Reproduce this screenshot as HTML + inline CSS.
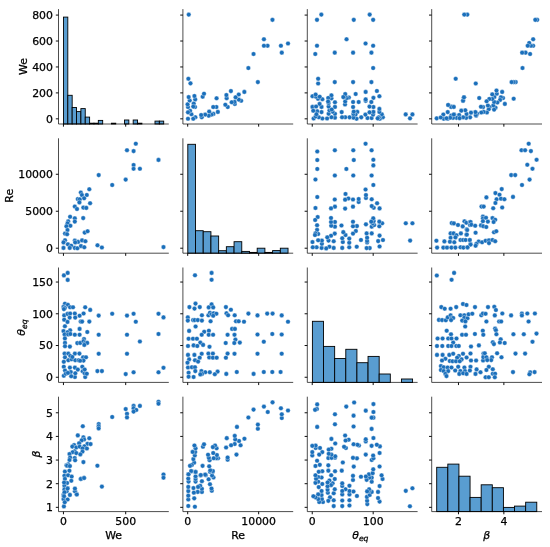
<!DOCTYPE html>
<html><head><meta charset="utf-8"><style>
html,body{margin:0;padding:0;background:#fff;}
svg{display:block;}
</style></head><body>
<svg width="550" height="547" viewBox="0 0 550 547">
<rect width="550" height="547" fill="#fff"/>
<rect x="63.45" y="17.10" width="4.36" height="106.90" fill="#599dd1" stroke="#000" stroke-width="0.9"/>
<rect x="67.81" y="95.30" width="4.36" height="28.70" fill="#599dd1" stroke="#000" stroke-width="0.9"/>
<rect x="72.17" y="107.50" width="4.36" height="16.50" fill="#599dd1" stroke="#000" stroke-width="0.9"/>
<rect x="76.53" y="111.60" width="4.36" height="12.40" fill="#599dd1" stroke="#000" stroke-width="0.9"/>
<rect x="80.89" y="108.60" width="4.36" height="15.40" fill="#599dd1" stroke="#000" stroke-width="0.9"/>
<rect x="85.25" y="117.10" width="4.36" height="6.90" fill="#599dd1" stroke="#000" stroke-width="0.9"/>
<rect x="89.60" y="123.20" width="4.36" height="0.80" fill="#599dd1" stroke="#000" stroke-width="0.9"/>
<rect x="93.96" y="123.20" width="4.36" height="0.80" fill="#599dd1" stroke="#000" stroke-width="0.9"/>
<rect x="98.32" y="120.40" width="4.36" height="3.60" fill="#599dd1" stroke="#000" stroke-width="0.9"/>
<rect x="102.68" y="124.00" width="4.36" height="0.00" fill="#599dd1" stroke="#000" stroke-width="0.9"/>
<rect x="107.04" y="124.00" width="4.36" height="0.00" fill="#599dd1" stroke="#000" stroke-width="0.9"/>
<rect x="111.40" y="123.20" width="4.36" height="0.80" fill="#599dd1" stroke="#000" stroke-width="0.9"/>
<rect x="115.76" y="124.00" width="4.36" height="0.00" fill="#599dd1" stroke="#000" stroke-width="0.9"/>
<rect x="120.12" y="124.00" width="4.36" height="0.00" fill="#599dd1" stroke="#000" stroke-width="0.9"/>
<rect x="124.48" y="120.00" width="4.36" height="4.00" fill="#599dd1" stroke="#000" stroke-width="0.9"/>
<rect x="128.84" y="124.00" width="4.36" height="0.00" fill="#599dd1" stroke="#000" stroke-width="0.9"/>
<rect x="133.19" y="120.00" width="4.36" height="4.00" fill="#599dd1" stroke="#000" stroke-width="0.9"/>
<rect x="137.55" y="123.20" width="4.36" height="0.80" fill="#599dd1" stroke="#000" stroke-width="0.9"/>
<rect x="141.91" y="124.00" width="4.36" height="0.00" fill="#599dd1" stroke="#000" stroke-width="0.9"/>
<rect x="146.27" y="124.00" width="4.36" height="0.00" fill="#599dd1" stroke="#000" stroke-width="0.9"/>
<rect x="150.63" y="124.00" width="4.36" height="0.00" fill="#599dd1" stroke="#000" stroke-width="0.9"/>
<rect x="154.99" y="121.10" width="4.36" height="2.90" fill="#599dd1" stroke="#000" stroke-width="0.9"/>
<rect x="159.35" y="121.10" width="4.36" height="2.90" fill="#599dd1" stroke="#000" stroke-width="0.9"/>
<rect x="187.80" y="144.30" width="7.71" height="108.90" fill="#599dd1" stroke="#000" stroke-width="0.9"/>
<rect x="195.51" y="230.70" width="7.71" height="22.50" fill="#599dd1" stroke="#000" stroke-width="0.9"/>
<rect x="203.22" y="231.70" width="7.71" height="21.50" fill="#599dd1" stroke="#000" stroke-width="0.9"/>
<rect x="210.93" y="236.00" width="7.71" height="17.20" fill="#599dd1" stroke="#000" stroke-width="0.9"/>
<rect x="218.64" y="250.70" width="7.71" height="2.50" fill="#599dd1" stroke="#000" stroke-width="0.9"/>
<rect x="226.35" y="246.70" width="7.71" height="6.50" fill="#599dd1" stroke="#000" stroke-width="0.9"/>
<rect x="234.06" y="241.70" width="7.71" height="11.50" fill="#599dd1" stroke="#000" stroke-width="0.9"/>
<rect x="241.77" y="251.40" width="7.71" height="1.80" fill="#599dd1" stroke="#000" stroke-width="0.9"/>
<rect x="249.48" y="252.40" width="7.71" height="0.80" fill="#599dd1" stroke="#000" stroke-width="0.9"/>
<rect x="257.19" y="248.20" width="7.71" height="5.00" fill="#599dd1" stroke="#000" stroke-width="0.9"/>
<rect x="264.90" y="252.40" width="7.71" height="0.80" fill="#599dd1" stroke="#000" stroke-width="0.9"/>
<rect x="272.61" y="250.60" width="7.71" height="2.60" fill="#599dd1" stroke="#000" stroke-width="0.9"/>
<rect x="280.32" y="248.20" width="7.71" height="5.00" fill="#599dd1" stroke="#000" stroke-width="0.9"/>
<rect x="312.40" y="321.30" width="11.13" height="61.10" fill="#599dd1" stroke="#000" stroke-width="0.9"/>
<rect x="323.53" y="346.40" width="11.13" height="36.00" fill="#599dd1" stroke="#000" stroke-width="0.9"/>
<rect x="334.66" y="358.50" width="11.13" height="23.90" fill="#599dd1" stroke="#000" stroke-width="0.9"/>
<rect x="345.79" y="349.30" width="11.13" height="33.10" fill="#599dd1" stroke="#000" stroke-width="0.9"/>
<rect x="356.92" y="362.70" width="11.13" height="19.70" fill="#599dd1" stroke="#000" stroke-width="0.9"/>
<rect x="368.05" y="356.40" width="11.13" height="26.00" fill="#599dd1" stroke="#000" stroke-width="0.9"/>
<rect x="379.18" y="374.00" width="11.13" height="8.40" fill="#599dd1" stroke="#000" stroke-width="0.9"/>
<rect x="390.31" y="382.40" width="11.13" height="0.00" fill="#599dd1" stroke="#000" stroke-width="0.9"/>
<rect x="401.44" y="379.00" width="11.13" height="3.40" fill="#599dd1" stroke="#000" stroke-width="0.9"/>
<rect x="436.70" y="467.30" width="11.12" height="44.30" fill="#599dd1" stroke="#000" stroke-width="0.9"/>
<rect x="447.82" y="464.10" width="11.12" height="47.50" fill="#599dd1" stroke="#000" stroke-width="0.9"/>
<rect x="458.94" y="476.20" width="11.12" height="35.40" fill="#599dd1" stroke="#000" stroke-width="0.9"/>
<rect x="470.06" y="497.40" width="11.12" height="14.20" fill="#599dd1" stroke="#000" stroke-width="0.9"/>
<rect x="481.18" y="484.80" width="11.12" height="26.80" fill="#599dd1" stroke="#000" stroke-width="0.9"/>
<rect x="492.30" y="487.70" width="11.12" height="23.90" fill="#599dd1" stroke="#000" stroke-width="0.9"/>
<rect x="503.42" y="507.40" width="11.12" height="4.20" fill="#599dd1" stroke="#000" stroke-width="0.9"/>
<rect x="514.54" y="506.10" width="11.12" height="5.50" fill="#599dd1" stroke="#000" stroke-width="0.9"/>
<rect x="525.66" y="502.20" width="11.12" height="9.40" fill="#599dd1" stroke="#000" stroke-width="0.9"/>
<g fill="#1a6fbb" stroke="#fff" stroke-width="0.37">
<circle cx="288.02" cy="43.48" r="2.3"/>
<circle cx="281.78" cy="52.64" r="2.3"/>
<circle cx="280.91" cy="45.77" r="2.3"/>
<circle cx="272.46" cy="19.83" r="2.3"/>
<circle cx="267.57" cy="45.77" r="2.3"/>
<circle cx="263.92" cy="45.77" r="2.3"/>
<circle cx="263.92" cy="39.21" r="2.3"/>
<circle cx="257.87" cy="82.12" r="2.3"/>
<circle cx="253.55" cy="54.00" r="2.3"/>
<circle cx="248.37" cy="68.06" r="2.3"/>
<circle cx="244.34" cy="91.92" r="2.3"/>
<circle cx="241.17" cy="100.77" r="2.3"/>
<circle cx="238.77" cy="99.62" r="2.3"/>
<circle cx="238.77" cy="94.52" r="2.3"/>
<circle cx="235.60" cy="97.33" r="2.3"/>
<circle cx="234.83" cy="103.90" r="2.3"/>
<circle cx="234.55" cy="101.92" r="2.3"/>
<circle cx="231.67" cy="102.23" r="2.3"/>
<circle cx="230.90" cy="91.08" r="2.3"/>
<circle cx="227.73" cy="107.02" r="2.3"/>
<circle cx="225.33" cy="104.73" r="2.3"/>
<circle cx="226.67" cy="98.17" r="2.3"/>
<circle cx="226.39" cy="95.04" r="2.3"/>
<circle cx="217.84" cy="111.92" r="2.3"/>
<circle cx="216.40" cy="107.02" r="2.3"/>
<circle cx="216.59" cy="98.27" r="2.3"/>
<circle cx="213.23" cy="107.02" r="2.3"/>
<circle cx="213.43" cy="113.90" r="2.3"/>
<circle cx="211.51" cy="114.62" r="2.3"/>
<circle cx="209.20" cy="111.60" r="2.3"/>
<circle cx="208.72" cy="115.77" r="2.3"/>
<circle cx="205.17" cy="114.62" r="2.3"/>
<circle cx="201.72" cy="117.23" r="2.3"/>
<circle cx="201.14" cy="115.04" r="2.3"/>
<circle cx="202.68" cy="96.71" r="2.3"/>
<circle cx="204.02" cy="93.69" r="2.3"/>
<circle cx="195.38" cy="117.23" r="2.3"/>
<circle cx="193.27" cy="118.79" r="2.3"/>
<circle cx="195.00" cy="107.02" r="2.3"/>
<circle cx="193.75" cy="103.58" r="2.3"/>
<circle cx="195.19" cy="99.42" r="2.3"/>
<circle cx="194.42" cy="95.98" r="2.3"/>
<circle cx="193.27" cy="106.60" r="2.3"/>
<circle cx="191.44" cy="114.21" r="2.3"/>
<circle cx="190.10" cy="110.77" r="2.3"/>
<circle cx="187.99" cy="118.79" r="2.3"/>
<circle cx="187.99" cy="112.33" r="2.3"/>
<circle cx="187.99" cy="107.02" r="2.3"/>
<circle cx="187.60" cy="104.31" r="2.3"/>
<circle cx="189.72" cy="100.56" r="2.3"/>
<circle cx="188.66" cy="97.12" r="2.3"/>
<circle cx="190.48" cy="83.37" r="2.3"/>
<circle cx="188.37" cy="78.79" r="2.3"/>
<circle cx="188.76" cy="14.62" r="2.3"/>
</g>
<g fill="#1a6fbb" stroke="#fff" stroke-width="0.37">
<circle cx="410.02" cy="118.37" r="2.3"/>
<circle cx="412.42" cy="114.42" r="2.3"/>
<circle cx="405.70" cy="114.42" r="2.3"/>
<circle cx="371.43" cy="82.12" r="2.3"/>
<circle cx="373.15" cy="68.06" r="2.3"/>
<circle cx="371.43" cy="52.64" r="2.3"/>
<circle cx="373.15" cy="45.77" r="2.3"/>
<circle cx="373.15" cy="19.83" r="2.3"/>
<circle cx="369.70" cy="14.62" r="2.3"/>
<circle cx="365.57" cy="43.48" r="2.3"/>
<circle cx="353.09" cy="82.12" r="2.3"/>
<circle cx="353.09" cy="52.64" r="2.3"/>
<circle cx="353.76" cy="19.83" r="2.3"/>
<circle cx="346.56" cy="39.21" r="2.3"/>
<circle cx="334.76" cy="82.12" r="2.3"/>
<circle cx="334.76" cy="52.64" r="2.3"/>
<circle cx="318.15" cy="83.48" r="2.3"/>
<circle cx="318.15" cy="78.79" r="2.3"/>
<circle cx="315.27" cy="54.00" r="2.3"/>
<circle cx="317.00" cy="45.77" r="2.3"/>
<circle cx="317.00" cy="19.83" r="2.3"/>
<circle cx="321.32" cy="14.62" r="2.3"/>
<circle cx="382.85" cy="117.33" r="2.3"/>
<circle cx="381.79" cy="114.21" r="2.3"/>
<circle cx="379.78" cy="118.79" r="2.3"/>
<circle cx="378.72" cy="117.33" r="2.3"/>
<circle cx="377.67" cy="118.37" r="2.3"/>
<circle cx="379.39" cy="111.92" r="2.3"/>
<circle cx="379.39" cy="108.90" r="2.3"/>
<circle cx="379.39" cy="96.19" r="2.3"/>
<circle cx="376.90" cy="90.98" r="2.3"/>
<circle cx="371.62" cy="118.06" r="2.3"/>
<circle cx="373.06" cy="114.62" r="2.3"/>
<circle cx="373.44" cy="111.92" r="2.3"/>
<circle cx="373.44" cy="107.02" r="2.3"/>
<circle cx="373.44" cy="97.85" r="2.3"/>
<circle cx="371.33" cy="102.02" r="2.3"/>
<circle cx="369.51" cy="112.33" r="2.3"/>
<circle cx="369.51" cy="106.60" r="2.3"/>
<circle cx="367.49" cy="118.06" r="2.3"/>
<circle cx="365.38" cy="114.62" r="2.3"/>
<circle cx="365.67" cy="100.87" r="2.3"/>
<circle cx="365.67" cy="99.42" r="2.3"/>
<circle cx="365.67" cy="91.92" r="2.3"/>
<circle cx="361.25" cy="117.33" r="2.3"/>
<circle cx="358.66" cy="102.02" r="2.3"/>
<circle cx="356.55" cy="118.79" r="2.3"/>
<circle cx="357.31" cy="111.92" r="2.3"/>
<circle cx="355.68" cy="94.00" r="2.3"/>
<circle cx="355.49" cy="114.62" r="2.3"/>
<circle cx="353.38" cy="117.65" r="2.3"/>
<circle cx="353.38" cy="113.90" r="2.3"/>
<circle cx="353.76" cy="111.60" r="2.3"/>
<circle cx="353.09" cy="107.02" r="2.3"/>
<circle cx="353.09" cy="102.02" r="2.3"/>
<circle cx="349.54" cy="117.33" r="2.3"/>
<circle cx="348.87" cy="97.44" r="2.3"/>
<circle cx="345.22" cy="117.23" r="2.3"/>
<circle cx="342.05" cy="117.23" r="2.3"/>
<circle cx="341.67" cy="112.12" r="2.3"/>
<circle cx="345.03" cy="104.42" r="2.3"/>
<circle cx="345.22" cy="101.40" r="2.3"/>
<circle cx="346.85" cy="97.96" r="2.3"/>
<circle cx="345.22" cy="96.19" r="2.3"/>
<circle cx="345.22" cy="94.10" r="2.3"/>
<circle cx="343.30" cy="97.12" r="2.3"/>
<circle cx="334.95" cy="117.65" r="2.3"/>
<circle cx="334.95" cy="113.79" r="2.3"/>
<circle cx="334.95" cy="106.92" r="2.3"/>
<circle cx="334.95" cy="102.23" r="2.3"/>
<circle cx="331.40" cy="117.23" r="2.3"/>
<circle cx="332.64" cy="111.71" r="2.3"/>
<circle cx="331.40" cy="98.37" r="2.3"/>
<circle cx="331.40" cy="95.35" r="2.3"/>
<circle cx="328.61" cy="113.79" r="2.3"/>
<circle cx="329.48" cy="110.35" r="2.3"/>
<circle cx="328.61" cy="106.50" r="2.3"/>
<circle cx="328.61" cy="103.06" r="2.3"/>
<circle cx="328.23" cy="97.96" r="2.3"/>
<circle cx="327.08" cy="118.48" r="2.3"/>
<circle cx="322.37" cy="118.48" r="2.3"/>
<circle cx="321.51" cy="112.12" r="2.3"/>
<circle cx="321.51" cy="106.92" r="2.3"/>
<circle cx="322.37" cy="99.21" r="2.3"/>
<circle cx="318.72" cy="117.23" r="2.3"/>
<circle cx="319.59" cy="103.90" r="2.3"/>
<circle cx="317.19" cy="111.19" r="2.3"/>
<circle cx="317.96" cy="98.79" r="2.3"/>
<circle cx="313.64" cy="118.48" r="2.3"/>
<circle cx="315.65" cy="116.40" r="2.3"/>
<circle cx="312.48" cy="106.92" r="2.3"/>
<circle cx="312.48" cy="96.19" r="2.3"/>
<circle cx="316.04" cy="96.71" r="2.3"/>
<circle cx="315.65" cy="94.52" r="2.3"/>
<circle cx="313.25" cy="110.77" r="2.3"/>
<circle cx="316.42" cy="114.21" r="2.3"/>
<circle cx="319.70" cy="96.70" r="2.3"/>
<circle cx="328.10" cy="101.50" r="2.3"/>
<circle cx="316.10" cy="106.50" r="2.3"/>
<circle cx="331.70" cy="109.50" r="2.3"/>
</g>
<g fill="#1a6fbb" stroke="#fff" stroke-width="0.37">
<circle cx="537.20" cy="19.83" r="2.3"/>
<circle cx="535.28" cy="19.83" r="2.3"/>
<circle cx="533.17" cy="39.21" r="2.3"/>
<circle cx="533.17" cy="45.77" r="2.3"/>
<circle cx="530.96" cy="45.77" r="2.3"/>
<circle cx="529.23" cy="42.96" r="2.3"/>
<circle cx="527.70" cy="45.77" r="2.3"/>
<circle cx="530.10" cy="54.00" r="2.3"/>
<circle cx="525.58" cy="52.64" r="2.3"/>
<circle cx="522.13" cy="52.64" r="2.3"/>
<circle cx="522.51" cy="68.06" r="2.3"/>
<circle cx="515.70" cy="82.12" r="2.3"/>
<circle cx="513.68" cy="82.12" r="2.3"/>
<circle cx="511.57" cy="82.12" r="2.3"/>
<circle cx="513.68" cy="98.69" r="2.3"/>
<circle cx="475.76" cy="83.48" r="2.3"/>
<circle cx="455.70" cy="78.79" r="2.3"/>
<circle cx="467.31" cy="14.62" r="2.3"/>
<circle cx="464.24" cy="14.62" r="2.3"/>
<circle cx="464.05" cy="97.33" r="2.3"/>
<circle cx="462.99" cy="100.87" r="2.3"/>
<circle cx="451.57" cy="106.71" r="2.3"/>
<circle cx="448.31" cy="105.04" r="2.3"/>
<circle cx="504.85" cy="103.90" r="2.3"/>
<circle cx="503.03" cy="98.06" r="2.3"/>
<circle cx="502.16" cy="91.92" r="2.3"/>
<circle cx="500.91" cy="97.33" r="2.3"/>
<circle cx="500.05" cy="99.94" r="2.3"/>
<circle cx="497.36" cy="102.54" r="2.3"/>
<circle cx="496.79" cy="93.79" r="2.3"/>
<circle cx="496.50" cy="90.56" r="2.3"/>
<circle cx="495.54" cy="107.75" r="2.3"/>
<circle cx="494.10" cy="109.62" r="2.3"/>
<circle cx="493.23" cy="105.46" r="2.3"/>
<circle cx="494.10" cy="101.92" r="2.3"/>
<circle cx="494.39" cy="97.02" r="2.3"/>
<circle cx="492.27" cy="94.42" r="2.3"/>
<circle cx="492.27" cy="99.00" r="2.3"/>
<circle cx="489.59" cy="107.12" r="2.3"/>
<circle cx="488.72" cy="109.31" r="2.3"/>
<circle cx="489.30" cy="99.00" r="2.3"/>
<circle cx="487.86" cy="105.46" r="2.3"/>
<circle cx="486.61" cy="101.29" r="2.3"/>
<circle cx="486.90" cy="112.54" r="2.3"/>
<circle cx="483.63" cy="111.92" r="2.3"/>
<circle cx="483.06" cy="107.12" r="2.3"/>
<circle cx="481.23" cy="112.54" r="2.3"/>
<circle cx="480.95" cy="106.71" r="2.3"/>
<circle cx="479.22" cy="98.06" r="2.3"/>
<circle cx="477.11" cy="113.90" r="2.3"/>
<circle cx="476.15" cy="115.77" r="2.3"/>
<circle cx="475.76" cy="115.04" r="2.3"/>
<circle cx="475.38" cy="112.12" r="2.3"/>
<circle cx="470.10" cy="117.33" r="2.3"/>
<circle cx="470.96" cy="112.65" r="2.3"/>
<circle cx="466.16" cy="117.85" r="2.3"/>
<circle cx="466.55" cy="114.00" r="2.3"/>
<circle cx="465.30" cy="110.25" r="2.3"/>
<circle cx="463.09" cy="117.33" r="2.3"/>
<circle cx="461.27" cy="110.67" r="2.3"/>
<circle cx="459.16" cy="115.04" r="2.3"/>
<circle cx="456.47" cy="117.85" r="2.3"/>
<circle cx="454.26" cy="114.52" r="2.3"/>
<circle cx="453.01" cy="117.85" r="2.3"/>
<circle cx="451.19" cy="115.46" r="2.3"/>
<circle cx="447.73" cy="112.12" r="2.3"/>
<circle cx="447.73" cy="118.79" r="2.3"/>
<circle cx="443.70" cy="118.79" r="2.3"/>
<circle cx="443.32" cy="114.52" r="2.3"/>
<circle cx="436.69" cy="118.37" r="2.3"/>
<circle cx="463.09" cy="100.67" r="2.3"/>
<circle cx="463.95" cy="97.33" r="2.3"/>
<circle cx="451.19" cy="106.92" r="2.3"/>
<circle cx="448.12" cy="104.94" r="2.3"/>
<circle cx="440.70" cy="117.50" r="2.3"/>
<circle cx="450.20" cy="117.80" r="2.3"/>
<circle cx="453.80" cy="106.90" r="2.3"/>
<circle cx="459.60" cy="118.20" r="2.3"/>
<circle cx="453.80" cy="114.50" r="2.3"/>
<circle cx="446.50" cy="118.20" r="2.3"/>
</g>
<g fill="#1a6fbb" stroke="#fff" stroke-width="0.37">
<circle cx="135.80" cy="143.70" r="2.3"/>
<circle cx="127.00" cy="150.20" r="2.3"/>
<circle cx="133.60" cy="151.10" r="2.3"/>
<circle cx="158.50" cy="159.90" r="2.3"/>
<circle cx="133.60" cy="165.00" r="2.3"/>
<circle cx="133.60" cy="168.80" r="2.3"/>
<circle cx="139.90" cy="168.80" r="2.3"/>
<circle cx="98.70" cy="175.10" r="2.3"/>
<circle cx="125.70" cy="179.60" r="2.3"/>
<circle cx="112.20" cy="185.00" r="2.3"/>
<circle cx="89.30" cy="189.20" r="2.3"/>
<circle cx="80.80" cy="192.50" r="2.3"/>
<circle cx="81.90" cy="195.00" r="2.3"/>
<circle cx="86.80" cy="195.00" r="2.3"/>
<circle cx="84.10" cy="198.30" r="2.3"/>
<circle cx="77.80" cy="199.10" r="2.3"/>
<circle cx="79.70" cy="199.40" r="2.3"/>
<circle cx="79.40" cy="202.40" r="2.3"/>
<circle cx="90.10" cy="203.20" r="2.3"/>
<circle cx="74.80" cy="206.50" r="2.3"/>
<circle cx="77.00" cy="209.00" r="2.3"/>
<circle cx="83.30" cy="207.60" r="2.3"/>
<circle cx="86.30" cy="207.90" r="2.3"/>
<circle cx="70.10" cy="216.80" r="2.3"/>
<circle cx="74.80" cy="218.30" r="2.3"/>
<circle cx="83.20" cy="218.10" r="2.3"/>
<circle cx="74.80" cy="221.60" r="2.3"/>
<circle cx="68.20" cy="221.40" r="2.3"/>
<circle cx="67.50" cy="223.40" r="2.3"/>
<circle cx="70.40" cy="225.80" r="2.3"/>
<circle cx="66.40" cy="226.30" r="2.3"/>
<circle cx="67.50" cy="230.00" r="2.3"/>
<circle cx="65.00" cy="233.60" r="2.3"/>
<circle cx="67.10" cy="234.20" r="2.3"/>
<circle cx="84.70" cy="232.60" r="2.3"/>
<circle cx="87.60" cy="231.20" r="2.3"/>
<circle cx="65.00" cy="240.20" r="2.3"/>
<circle cx="63.50" cy="242.40" r="2.3"/>
<circle cx="74.80" cy="240.60" r="2.3"/>
<circle cx="78.10" cy="241.90" r="2.3"/>
<circle cx="82.10" cy="240.40" r="2.3"/>
<circle cx="85.40" cy="241.20" r="2.3"/>
<circle cx="75.20" cy="242.40" r="2.3"/>
<circle cx="67.90" cy="244.30" r="2.3"/>
<circle cx="71.20" cy="245.70" r="2.3"/>
<circle cx="63.50" cy="247.90" r="2.3"/>
<circle cx="69.70" cy="247.90" r="2.3"/>
<circle cx="74.80" cy="247.90" r="2.3"/>
<circle cx="77.40" cy="248.30" r="2.3"/>
<circle cx="81.00" cy="246.10" r="2.3"/>
<circle cx="84.30" cy="247.20" r="2.3"/>
<circle cx="97.50" cy="245.30" r="2.3"/>
<circle cx="101.90" cy="247.50" r="2.3"/>
<circle cx="163.50" cy="247.10" r="2.3"/>
</g>
<g fill="#1a6fbb" stroke="#fff" stroke-width="0.37">
<circle cx="410.11" cy="240.60" r="2.3"/>
<circle cx="412.42" cy="223.30" r="2.3"/>
<circle cx="405.79" cy="223.30" r="2.3"/>
<circle cx="382.95" cy="240.07" r="2.3"/>
<circle cx="379.59" cy="246.43" r="2.3"/>
<circle cx="378.15" cy="241.12" r="2.3"/>
<circle cx="379.59" cy="235.60" r="2.3"/>
<circle cx="382.18" cy="223.30" r="2.3"/>
<circle cx="379.30" cy="226.32" r="2.3"/>
<circle cx="379.30" cy="221.64" r="2.3"/>
<circle cx="379.59" cy="208.41" r="2.3"/>
<circle cx="377.09" cy="203.20" r="2.3"/>
<circle cx="369.70" cy="248.10" r="2.3"/>
<circle cx="366.63" cy="248.10" r="2.3"/>
<circle cx="367.11" cy="242.57" r="2.3"/>
<circle cx="367.11" cy="240.91" r="2.3"/>
<circle cx="367.11" cy="237.68" r="2.3"/>
<circle cx="366.63" cy="233.41" r="2.3"/>
<circle cx="371.71" cy="233.41" r="2.3"/>
<circle cx="371.71" cy="226.64" r="2.3"/>
<circle cx="374.21" cy="224.97" r="2.3"/>
<circle cx="372.77" cy="223.30" r="2.3"/>
<circle cx="373.73" cy="221.12" r="2.3"/>
<circle cx="373.25" cy="218.30" r="2.3"/>
<circle cx="371.23" cy="221.64" r="2.3"/>
<circle cx="365.95" cy="224.34" r="2.3"/>
<circle cx="373.73" cy="207.78" r="2.3"/>
<circle cx="371.71" cy="206.11" r="2.3"/>
<circle cx="371.71" cy="199.24" r="2.3"/>
<circle cx="365.95" cy="197.89" r="2.3"/>
<circle cx="365.95" cy="195.07" r="2.3"/>
<circle cx="360.96" cy="239.97" r="2.3"/>
<circle cx="356.74" cy="246.74" r="2.3"/>
<circle cx="355.87" cy="231.01" r="2.3"/>
<circle cx="356.93" cy="226.12" r="2.3"/>
<circle cx="352.99" cy="233.62" r="2.3"/>
<circle cx="352.99" cy="226.32" r="2.3"/>
<circle cx="352.99" cy="221.74" r="2.3"/>
<circle cx="358.66" cy="201.95" r="2.3"/>
<circle cx="358.66" cy="199.03" r="2.3"/>
<circle cx="352.99" cy="206.64" r="2.3"/>
<circle cx="352.99" cy="199.45" r="2.3"/>
<circle cx="349.25" cy="247.26" r="2.3"/>
<circle cx="349.25" cy="242.68" r="2.3"/>
<circle cx="349.25" cy="238.62" r="2.3"/>
<circle cx="348.39" cy="198.51" r="2.3"/>
<circle cx="345.51" cy="193.93" r="2.3"/>
<circle cx="345.12" cy="199.66" r="2.3"/>
<circle cx="345.12" cy="208.62" r="2.3"/>
<circle cx="345.51" cy="235.07" r="2.3"/>
<circle cx="343.30" cy="232.16" r="2.3"/>
<circle cx="342.24" cy="247.89" r="2.3"/>
<circle cx="342.82" cy="242.05" r="2.3"/>
<circle cx="342.24" cy="238.20" r="2.3"/>
<circle cx="341.47" cy="225.49" r="2.3"/>
<circle cx="333.70" cy="247.89" r="2.3"/>
<circle cx="333.70" cy="241.22" r="2.3"/>
<circle cx="334.76" cy="233.62" r="2.3"/>
<circle cx="334.95" cy="226.64" r="2.3"/>
<circle cx="334.95" cy="221.95" r="2.3"/>
<circle cx="334.95" cy="206.64" r="2.3"/>
<circle cx="334.76" cy="199.45" r="2.3"/>
<circle cx="331.01" cy="235.70" r="2.3"/>
<circle cx="331.20" cy="225.80" r="2.3"/>
<circle cx="331.01" cy="221.95" r="2.3"/>
<circle cx="331.01" cy="217.99" r="2.3"/>
<circle cx="331.01" cy="208.41" r="2.3"/>
<circle cx="329.38" cy="246.74" r="2.3"/>
<circle cx="328.52" cy="240.60" r="2.3"/>
<circle cx="327.27" cy="237.37" r="2.3"/>
<circle cx="326.21" cy="248.41" r="2.3"/>
<circle cx="321.60" cy="247.89" r="2.3"/>
<circle cx="321.89" cy="243.82" r="2.3"/>
<circle cx="321.89" cy="240.60" r="2.3"/>
<circle cx="316.61" cy="247.26" r="2.3"/>
<circle cx="318.15" cy="240.28" r="2.3"/>
<circle cx="318.15" cy="233.93" r="2.3"/>
<circle cx="317.09" cy="229.87" r="2.3"/>
<circle cx="317.09" cy="225.18" r="2.3"/>
<circle cx="315.46" cy="233.30" r="2.3"/>
<circle cx="317.67" cy="217.05" r="2.3"/>
<circle cx="315.17" cy="219.97" r="2.3"/>
<circle cx="315.46" cy="207.99" r="2.3"/>
<circle cx="317.28" cy="197.05" r="2.3"/>
<circle cx="312.77" cy="247.26" r="2.3"/>
<circle cx="312.48" cy="242.05" r="2.3"/>
<circle cx="314.98" cy="235.07" r="2.3"/>
<circle cx="373.35" cy="184.97" r="2.3"/>
<circle cx="371.62" cy="175.49" r="2.3"/>
<circle cx="373.35" cy="165.38" r="2.3"/>
<circle cx="373.35" cy="159.76" r="2.3"/>
<circle cx="371.62" cy="150.28" r="2.3"/>
<circle cx="365.57" cy="143.72" r="2.3"/>
<circle cx="365.57" cy="189.55" r="2.3"/>
<circle cx="353.28" cy="175.49" r="2.3"/>
<circle cx="353.76" cy="160.07" r="2.3"/>
<circle cx="353.28" cy="150.28" r="2.3"/>
<circle cx="346.37" cy="168.93" r="2.3"/>
<circle cx="334.85" cy="175.49" r="2.3"/>
<circle cx="334.85" cy="150.28" r="2.3"/>
<circle cx="315.46" cy="179.55" r="2.3"/>
<circle cx="317.28" cy="168.93" r="2.3"/>
<circle cx="317.28" cy="160.07" r="2.3"/>
<circle cx="317.28" cy="151.43" r="2.3"/>
</g>
<g fill="#1a6fbb" stroke="#fff" stroke-width="0.37">
<circle cx="528.70" cy="143.70" r="2.3"/>
<circle cx="521.50" cy="150.20" r="2.3"/>
<circle cx="525.10" cy="150.20" r="2.3"/>
<circle cx="530.90" cy="151.10" r="2.3"/>
<circle cx="536.60" cy="159.80" r="2.3"/>
<circle cx="527.30" cy="164.80" r="2.3"/>
<circle cx="532.50" cy="168.80" r="2.3"/>
<circle cx="511.20" cy="175.10" r="2.3"/>
<circle cx="515.20" cy="175.10" r="2.3"/>
<circle cx="529.60" cy="179.60" r="2.3"/>
<circle cx="522.00" cy="185.00" r="2.3"/>
<circle cx="501.70" cy="189.10" r="2.3"/>
<circle cx="513.00" cy="196.90" r="2.3"/>
<circle cx="495.40" cy="193.10" r="2.3"/>
<circle cx="499.50" cy="194.70" r="2.3"/>
<circle cx="486.40" cy="197.40" r="2.3"/>
<circle cx="496.60" cy="199.20" r="2.3"/>
<circle cx="501.00" cy="198.70" r="2.3"/>
<circle cx="504.40" cy="199.20" r="2.3"/>
<circle cx="495.40" cy="203.00" r="2.3"/>
<circle cx="493.20" cy="208.20" r="2.3"/>
<circle cx="502.20" cy="207.50" r="2.3"/>
<circle cx="481.50" cy="206.60" r="2.3"/>
<circle cx="483.70" cy="206.60" r="2.3"/>
<circle cx="451.70" cy="223.10" r="2.3"/>
<circle cx="453.90" cy="223.40" r="2.3"/>
<circle cx="458.00" cy="225.00" r="2.3"/>
<circle cx="462.70" cy="226.40" r="2.3"/>
<circle cx="464.50" cy="221.30" r="2.3"/>
<circle cx="466.40" cy="222.80" r="2.3"/>
<circle cx="470.00" cy="222.00" r="2.3"/>
<circle cx="470.00" cy="225.00" r="2.3"/>
<circle cx="466.70" cy="229.40" r="2.3"/>
<circle cx="450.60" cy="233.40" r="2.3"/>
<circle cx="453.60" cy="233.40" r="2.3"/>
<circle cx="456.50" cy="235.20" r="2.3"/>
<circle cx="460.90" cy="233.40" r="2.3"/>
<circle cx="466.40" cy="234.80" r="2.3"/>
<circle cx="450.60" cy="237.80" r="2.3"/>
<circle cx="455.40" cy="237.40" r="2.3"/>
<circle cx="436.40" cy="240.70" r="2.3"/>
<circle cx="444.40" cy="241.40" r="2.3"/>
<circle cx="449.90" cy="241.80" r="2.3"/>
<circle cx="454.30" cy="242.20" r="2.3"/>
<circle cx="460.50" cy="240.00" r="2.3"/>
<circle cx="463.10" cy="240.00" r="2.3"/>
<circle cx="465.60" cy="240.00" r="2.3"/>
<circle cx="469.70" cy="240.00" r="2.3"/>
<circle cx="470.40" cy="244.00" r="2.3"/>
<circle cx="437.10" cy="247.60" r="2.3"/>
<circle cx="443.30" cy="247.60" r="2.3"/>
<circle cx="447.00" cy="247.60" r="2.3"/>
<circle cx="451.40" cy="247.60" r="2.3"/>
<circle cx="455.40" cy="247.60" r="2.3"/>
<circle cx="460.50" cy="247.30" r="2.3"/>
<circle cx="463.40" cy="247.60" r="2.3"/>
<circle cx="467.50" cy="247.60" r="2.3"/>
<circle cx="482.90" cy="216.60" r="2.3"/>
<circle cx="482.90" cy="218.50" r="2.3"/>
<circle cx="486.00" cy="217.80" r="2.3"/>
<circle cx="482.90" cy="221.20" r="2.3"/>
<circle cx="487.90" cy="221.60" r="2.3"/>
<circle cx="492.50" cy="218.10" r="2.3"/>
<circle cx="495.20" cy="219.70" r="2.3"/>
<circle cx="493.60" cy="222.00" r="2.3"/>
<circle cx="470.60" cy="222.00" r="2.3"/>
<circle cx="471.40" cy="224.70" r="2.3"/>
<circle cx="475.20" cy="225.80" r="2.3"/>
<circle cx="481.00" cy="225.40" r="2.3"/>
<circle cx="483.30" cy="226.20" r="2.3"/>
<circle cx="486.30" cy="227.00" r="2.3"/>
<circle cx="467.20" cy="230.00" r="2.3"/>
<circle cx="475.60" cy="232.70" r="2.3"/>
<circle cx="494.00" cy="232.30" r="2.3"/>
<circle cx="496.30" cy="231.20" r="2.3"/>
<circle cx="466.80" cy="234.60" r="2.3"/>
<circle cx="469.80" cy="240.00" r="2.3"/>
<circle cx="478.70" cy="241.50" r="2.3"/>
<circle cx="482.10" cy="242.30" r="2.3"/>
<circle cx="485.60" cy="240.80" r="2.3"/>
<circle cx="489.00" cy="240.40" r="2.3"/>
<circle cx="489.00" cy="243.10" r="2.3"/>
<circle cx="492.50" cy="240.00" r="2.3"/>
<circle cx="495.20" cy="241.20" r="2.3"/>
<circle cx="476.40" cy="243.90" r="2.3"/>
<circle cx="470.60" cy="244.60" r="2.3"/>
<circle cx="467.50" cy="247.30" r="2.3"/>
<circle cx="475.60" cy="245.80" r="2.3"/>
</g>
<g fill="#1a6fbb" stroke="#fff" stroke-width="0.37">
<circle cx="63.90" cy="275.40" r="2.3"/>
<circle cx="67.70" cy="272.90" r="2.3"/>
<circle cx="67.70" cy="279.90" r="2.3"/>
<circle cx="98.70" cy="315.60" r="2.3"/>
<circle cx="112.20" cy="313.80" r="2.3"/>
<circle cx="127.00" cy="315.60" r="2.3"/>
<circle cx="133.60" cy="313.80" r="2.3"/>
<circle cx="158.50" cy="313.80" r="2.3"/>
<circle cx="163.50" cy="317.40" r="2.3"/>
<circle cx="135.80" cy="321.70" r="2.3"/>
<circle cx="98.70" cy="334.70" r="2.3"/>
<circle cx="127.00" cy="334.70" r="2.3"/>
<circle cx="158.50" cy="334.00" r="2.3"/>
<circle cx="139.90" cy="341.50" r="2.3"/>
<circle cx="98.70" cy="353.80" r="2.3"/>
<circle cx="127.00" cy="353.80" r="2.3"/>
<circle cx="97.40" cy="371.10" r="2.3"/>
<circle cx="101.90" cy="371.10" r="2.3"/>
<circle cx="125.70" cy="374.10" r="2.3"/>
<circle cx="133.60" cy="372.30" r="2.3"/>
<circle cx="158.50" cy="372.30" r="2.3"/>
<circle cx="163.50" cy="367.80" r="2.3"/>
<circle cx="64.90" cy="303.70" r="2.3"/>
<circle cx="67.90" cy="304.80" r="2.3"/>
<circle cx="63.50" cy="306.90" r="2.3"/>
<circle cx="64.90" cy="308.00" r="2.3"/>
<circle cx="63.90" cy="309.10" r="2.3"/>
<circle cx="70.10" cy="307.30" r="2.3"/>
<circle cx="73.00" cy="307.30" r="2.3"/>
<circle cx="85.20" cy="307.30" r="2.3"/>
<circle cx="90.20" cy="309.90" r="2.3"/>
<circle cx="64.20" cy="315.40" r="2.3"/>
<circle cx="67.50" cy="313.90" r="2.3"/>
<circle cx="70.10" cy="313.50" r="2.3"/>
<circle cx="74.80" cy="313.50" r="2.3"/>
<circle cx="83.60" cy="313.50" r="2.3"/>
<circle cx="79.60" cy="315.70" r="2.3"/>
<circle cx="69.70" cy="317.60" r="2.3"/>
<circle cx="75.20" cy="317.60" r="2.3"/>
<circle cx="64.20" cy="319.70" r="2.3"/>
<circle cx="67.50" cy="321.90" r="2.3"/>
<circle cx="80.70" cy="321.60" r="2.3"/>
<circle cx="82.10" cy="321.60" r="2.3"/>
<circle cx="89.30" cy="321.60" r="2.3"/>
<circle cx="64.90" cy="326.20" r="2.3"/>
<circle cx="79.60" cy="328.90" r="2.3"/>
<circle cx="63.50" cy="331.10" r="2.3"/>
<circle cx="70.10" cy="330.30" r="2.3"/>
<circle cx="87.30" cy="332.00" r="2.3"/>
<circle cx="67.50" cy="332.20" r="2.3"/>
<circle cx="64.60" cy="334.40" r="2.3"/>
<circle cx="68.20" cy="334.40" r="2.3"/>
<circle cx="70.40" cy="334.00" r="2.3"/>
<circle cx="74.80" cy="334.70" r="2.3"/>
<circle cx="79.60" cy="334.70" r="2.3"/>
<circle cx="64.90" cy="338.40" r="2.3"/>
<circle cx="84.00" cy="339.10" r="2.3"/>
<circle cx="65.00" cy="342.90" r="2.3"/>
<circle cx="65.00" cy="346.20" r="2.3"/>
<circle cx="69.90" cy="346.60" r="2.3"/>
<circle cx="77.30" cy="343.10" r="2.3"/>
<circle cx="80.20" cy="342.90" r="2.3"/>
<circle cx="83.50" cy="341.20" r="2.3"/>
<circle cx="85.20" cy="342.90" r="2.3"/>
<circle cx="87.20" cy="342.90" r="2.3"/>
<circle cx="84.30" cy="344.90" r="2.3"/>
<circle cx="64.60" cy="353.60" r="2.3"/>
<circle cx="68.30" cy="353.60" r="2.3"/>
<circle cx="74.90" cy="353.60" r="2.3"/>
<circle cx="79.40" cy="353.60" r="2.3"/>
<circle cx="65.00" cy="357.30" r="2.3"/>
<circle cx="70.30" cy="356.00" r="2.3"/>
<circle cx="83.10" cy="357.30" r="2.3"/>
<circle cx="86.00" cy="357.30" r="2.3"/>
<circle cx="68.30" cy="360.20" r="2.3"/>
<circle cx="71.60" cy="359.30" r="2.3"/>
<circle cx="75.30" cy="360.20" r="2.3"/>
<circle cx="78.60" cy="360.20" r="2.3"/>
<circle cx="83.50" cy="360.60" r="2.3"/>
<circle cx="63.80" cy="361.80" r="2.3"/>
<circle cx="63.80" cy="366.70" r="2.3"/>
<circle cx="69.90" cy="367.60" r="2.3"/>
<circle cx="74.90" cy="367.60" r="2.3"/>
<circle cx="82.30" cy="366.70" r="2.3"/>
<circle cx="65.00" cy="370.50" r="2.3"/>
<circle cx="77.80" cy="369.60" r="2.3"/>
<circle cx="70.80" cy="372.10" r="2.3"/>
<circle cx="82.70" cy="371.30" r="2.3"/>
<circle cx="63.80" cy="375.80" r="2.3"/>
<circle cx="65.80" cy="373.70" r="2.3"/>
<circle cx="74.90" cy="377.00" r="2.3"/>
<circle cx="85.20" cy="377.00" r="2.3"/>
<circle cx="84.70" cy="373.30" r="2.3"/>
<circle cx="86.80" cy="373.70" r="2.3"/>
<circle cx="71.20" cy="376.20" r="2.3"/>
<circle cx="67.90" cy="372.90" r="2.3"/>
<circle cx="84.71" cy="369.48" r="2.3"/>
<circle cx="80.10" cy="360.73" r="2.3"/>
<circle cx="75.30" cy="373.23" r="2.3"/>
<circle cx="72.42" cy="356.98" r="2.3"/>
</g>
<g fill="#1a6fbb" stroke="#fff" stroke-width="0.37">
<circle cx="195.00" cy="275.30" r="2.3"/>
<circle cx="211.60" cy="272.90" r="2.3"/>
<circle cx="211.60" cy="279.80" r="2.3"/>
<circle cx="195.50" cy="303.60" r="2.3"/>
<circle cx="189.40" cy="307.10" r="2.3"/>
<circle cx="194.50" cy="308.60" r="2.3"/>
<circle cx="199.80" cy="307.10" r="2.3"/>
<circle cx="211.60" cy="304.40" r="2.3"/>
<circle cx="208.70" cy="307.40" r="2.3"/>
<circle cx="213.20" cy="307.40" r="2.3"/>
<circle cx="225.90" cy="307.10" r="2.3"/>
<circle cx="230.90" cy="309.70" r="2.3"/>
<circle cx="187.80" cy="317.40" r="2.3"/>
<circle cx="187.80" cy="320.60" r="2.3"/>
<circle cx="193.10" cy="320.10" r="2.3"/>
<circle cx="194.70" cy="320.10" r="2.3"/>
<circle cx="197.80" cy="320.10" r="2.3"/>
<circle cx="201.90" cy="320.60" r="2.3"/>
<circle cx="201.90" cy="315.30" r="2.3"/>
<circle cx="208.40" cy="315.30" r="2.3"/>
<circle cx="210.00" cy="312.70" r="2.3"/>
<circle cx="211.60" cy="314.20" r="2.3"/>
<circle cx="213.70" cy="313.20" r="2.3"/>
<circle cx="216.40" cy="313.70" r="2.3"/>
<circle cx="213.20" cy="315.80" r="2.3"/>
<circle cx="210.60" cy="321.30" r="2.3"/>
<circle cx="226.50" cy="313.20" r="2.3"/>
<circle cx="228.10" cy="315.30" r="2.3"/>
<circle cx="234.70" cy="315.30" r="2.3"/>
<circle cx="236.00" cy="321.30" r="2.3"/>
<circle cx="238.70" cy="321.30" r="2.3"/>
<circle cx="195.60" cy="326.50" r="2.3"/>
<circle cx="189.10" cy="330.90" r="2.3"/>
<circle cx="204.20" cy="331.80" r="2.3"/>
<circle cx="208.90" cy="330.70" r="2.3"/>
<circle cx="201.70" cy="334.80" r="2.3"/>
<circle cx="208.70" cy="334.80" r="2.3"/>
<circle cx="213.10" cy="334.80" r="2.3"/>
<circle cx="232.10" cy="328.90" r="2.3"/>
<circle cx="234.90" cy="328.90" r="2.3"/>
<circle cx="227.60" cy="334.80" r="2.3"/>
<circle cx="234.50" cy="334.80" r="2.3"/>
<circle cx="188.60" cy="338.70" r="2.3"/>
<circle cx="193.00" cy="338.70" r="2.3"/>
<circle cx="196.90" cy="338.70" r="2.3"/>
<circle cx="235.40" cy="339.60" r="2.3"/>
<circle cx="239.80" cy="342.60" r="2.3"/>
<circle cx="234.30" cy="343.00" r="2.3"/>
<circle cx="225.70" cy="343.00" r="2.3"/>
<circle cx="200.30" cy="342.60" r="2.3"/>
<circle cx="203.10" cy="344.90" r="2.3"/>
<circle cx="188.00" cy="346.00" r="2.3"/>
<circle cx="193.60" cy="345.40" r="2.3"/>
<circle cx="197.30" cy="346.00" r="2.3"/>
<circle cx="209.50" cy="346.80" r="2.3"/>
<circle cx="188.00" cy="354.90" r="2.3"/>
<circle cx="194.40" cy="354.90" r="2.3"/>
<circle cx="201.70" cy="353.80" r="2.3"/>
<circle cx="208.40" cy="353.60" r="2.3"/>
<circle cx="212.90" cy="353.60" r="2.3"/>
<circle cx="227.60" cy="353.60" r="2.3"/>
<circle cx="234.50" cy="353.80" r="2.3"/>
<circle cx="199.70" cy="357.70" r="2.3"/>
<circle cx="209.20" cy="357.50" r="2.3"/>
<circle cx="212.90" cy="357.70" r="2.3"/>
<circle cx="216.70" cy="357.70" r="2.3"/>
<circle cx="225.90" cy="357.70" r="2.3"/>
<circle cx="189.10" cy="359.40" r="2.3"/>
<circle cx="195.00" cy="360.30" r="2.3"/>
<circle cx="198.10" cy="361.60" r="2.3"/>
<circle cx="187.50" cy="362.70" r="2.3"/>
<circle cx="188.00" cy="367.50" r="2.3"/>
<circle cx="191.90" cy="367.20" r="2.3"/>
<circle cx="195.00" cy="367.20" r="2.3"/>
<circle cx="188.60" cy="372.70" r="2.3"/>
<circle cx="195.30" cy="371.10" r="2.3"/>
<circle cx="201.40" cy="371.10" r="2.3"/>
<circle cx="205.30" cy="372.20" r="2.3"/>
<circle cx="209.80" cy="372.20" r="2.3"/>
<circle cx="202.00" cy="373.90" r="2.3"/>
<circle cx="217.60" cy="371.60" r="2.3"/>
<circle cx="214.80" cy="374.20" r="2.3"/>
<circle cx="226.30" cy="373.90" r="2.3"/>
<circle cx="236.80" cy="372.00" r="2.3"/>
<circle cx="188.60" cy="376.70" r="2.3"/>
<circle cx="193.60" cy="377.00" r="2.3"/>
<circle cx="200.30" cy="374.40" r="2.3"/>
<circle cx="248.40" cy="313.60" r="2.3"/>
<circle cx="257.50" cy="315.40" r="2.3"/>
<circle cx="267.20" cy="313.60" r="2.3"/>
<circle cx="272.60" cy="313.60" r="2.3"/>
<circle cx="281.70" cy="315.40" r="2.3"/>
<circle cx="288.00" cy="321.70" r="2.3"/>
<circle cx="244.00" cy="321.70" r="2.3"/>
<circle cx="257.50" cy="334.50" r="2.3"/>
<circle cx="272.30" cy="334.00" r="2.3"/>
<circle cx="281.70" cy="334.50" r="2.3"/>
<circle cx="263.80" cy="341.70" r="2.3"/>
<circle cx="257.50" cy="353.70" r="2.3"/>
<circle cx="281.70" cy="353.70" r="2.3"/>
<circle cx="253.60" cy="373.90" r="2.3"/>
<circle cx="263.80" cy="372.00" r="2.3"/>
<circle cx="272.30" cy="372.00" r="2.3"/>
<circle cx="280.60" cy="372.00" r="2.3"/>
</g>
<g fill="#1a6fbb" stroke="#fff" stroke-width="0.37">
<circle cx="436.80" cy="275.50" r="2.3"/>
<circle cx="454.10" cy="272.90" r="2.3"/>
<circle cx="451.60" cy="279.80" r="2.3"/>
<circle cx="441.30" cy="307.10" r="2.3"/>
<circle cx="444.70" cy="308.70" r="2.3"/>
<circle cx="450.60" cy="308.70" r="2.3"/>
<circle cx="456.20" cy="307.10" r="2.3"/>
<circle cx="463.00" cy="304.00" r="2.3"/>
<circle cx="466.50" cy="305.00" r="2.3"/>
<circle cx="475.00" cy="307.10" r="2.3"/>
<circle cx="438.90" cy="319.90" r="2.3"/>
<circle cx="442.10" cy="320.10" r="2.3"/>
<circle cx="445.80" cy="320.30" r="2.3"/>
<circle cx="447.70" cy="317.40" r="2.3"/>
<circle cx="450.60" cy="315.30" r="2.3"/>
<circle cx="451.60" cy="318.00" r="2.3"/>
<circle cx="453.20" cy="318.00" r="2.3"/>
<circle cx="451.10" cy="320.10" r="2.3"/>
<circle cx="460.40" cy="315.30" r="2.3"/>
<circle cx="464.30" cy="315.30" r="2.3"/>
<circle cx="464.30" cy="317.80" r="2.3"/>
<circle cx="467.50" cy="318.20" r="2.3"/>
<circle cx="468.60" cy="314.30" r="2.3"/>
<circle cx="472.30" cy="313.70" r="2.3"/>
<circle cx="462.20" cy="320.60" r="2.3"/>
<circle cx="465.40" cy="321.40" r="2.3"/>
<circle cx="481.30" cy="315.30" r="2.3"/>
<circle cx="482.90" cy="313.50" r="2.3"/>
<circle cx="465.20" cy="326.50" r="2.3"/>
<circle cx="446.70" cy="330.70" r="2.3"/>
<circle cx="451.00" cy="334.30" r="2.3"/>
<circle cx="462.10" cy="334.80" r="2.3"/>
<circle cx="466.00" cy="334.80" r="2.3"/>
<circle cx="474.90" cy="334.00" r="2.3"/>
<circle cx="482.80" cy="330.70" r="2.3"/>
<circle cx="483.30" cy="334.80" r="2.3"/>
<circle cx="437.60" cy="338.50" r="2.3"/>
<circle cx="442.60" cy="338.50" r="2.3"/>
<circle cx="448.20" cy="338.50" r="2.3"/>
<circle cx="451.50" cy="338.50" r="2.3"/>
<circle cx="456.50" cy="338.50" r="2.3"/>
<circle cx="453.20" cy="342.60" r="2.3"/>
<circle cx="437.00" cy="346.00" r="2.3"/>
<circle cx="442.30" cy="346.00" r="2.3"/>
<circle cx="448.20" cy="346.00" r="2.3"/>
<circle cx="451.50" cy="346.00" r="2.3"/>
<circle cx="456.30" cy="346.00" r="2.3"/>
<circle cx="458.80" cy="346.00" r="2.3"/>
<circle cx="471.00" cy="346.50" r="2.3"/>
<circle cx="478.90" cy="345.40" r="2.3"/>
<circle cx="437.00" cy="354.90" r="2.3"/>
<circle cx="442.60" cy="354.90" r="2.3"/>
<circle cx="449.30" cy="354.90" r="2.3"/>
<circle cx="453.20" cy="353.80" r="2.3"/>
<circle cx="463.00" cy="353.80" r="2.3"/>
<circle cx="470.50" cy="353.50" r="2.3"/>
<circle cx="483.50" cy="353.50" r="2.3"/>
<circle cx="458.80" cy="356.00" r="2.3"/>
<circle cx="466.60" cy="357.50" r="2.3"/>
<circle cx="445.40" cy="358.80" r="2.3"/>
<circle cx="457.10" cy="357.70" r="2.3"/>
<circle cx="461.60" cy="359.40" r="2.3"/>
<circle cx="442.00" cy="360.50" r="2.3"/>
<circle cx="449.80" cy="361.00" r="2.3"/>
<circle cx="452.60" cy="361.30" r="2.3"/>
<circle cx="456.00" cy="361.30" r="2.3"/>
<circle cx="459.70" cy="361.30" r="2.3"/>
<circle cx="471.00" cy="360.50" r="2.3"/>
<circle cx="476.10" cy="360.50" r="2.3"/>
<circle cx="483.10" cy="360.50" r="2.3"/>
<circle cx="483.30" cy="357.10" r="2.3"/>
<circle cx="440.90" cy="366.10" r="2.3"/>
<circle cx="443.70" cy="367.20" r="2.3"/>
<circle cx="447.60" cy="367.50" r="2.3"/>
<circle cx="451.50" cy="367.50" r="2.3"/>
<circle cx="458.20" cy="366.80" r="2.3"/>
<circle cx="464.40" cy="367.50" r="2.3"/>
<circle cx="470.50" cy="366.80" r="2.3"/>
<circle cx="440.90" cy="370.00" r="2.3"/>
<circle cx="443.70" cy="371.10" r="2.3"/>
<circle cx="448.20" cy="371.10" r="2.3"/>
<circle cx="455.20" cy="370.50" r="2.3"/>
<circle cx="460.40" cy="371.10" r="2.3"/>
<circle cx="464.90" cy="371.10" r="2.3"/>
<circle cx="469.90" cy="370.50" r="2.3"/>
<circle cx="476.60" cy="369.40" r="2.3"/>
<circle cx="480.50" cy="372.20" r="2.3"/>
<circle cx="445.40" cy="373.90" r="2.3"/>
<circle cx="459.30" cy="373.90" r="2.3"/>
<circle cx="463.20" cy="373.30" r="2.3"/>
<circle cx="466.60" cy="373.90" r="2.3"/>
<circle cx="475.50" cy="373.90" r="2.3"/>
<circle cx="446.50" cy="376.10" r="2.3"/>
<circle cx="488.00" cy="307.10" r="2.3"/>
<circle cx="494.30" cy="306.80" r="2.3"/>
<circle cx="495.90" cy="310.00" r="2.3"/>
<circle cx="485.60" cy="313.80" r="2.3"/>
<circle cx="494.80" cy="315.40" r="2.3"/>
<circle cx="502.30" cy="313.50" r="2.3"/>
<circle cx="511.10" cy="315.40" r="2.3"/>
<circle cx="521.90" cy="313.50" r="2.3"/>
<circle cx="521.90" cy="315.40" r="2.3"/>
<circle cx="527.30" cy="313.50" r="2.3"/>
<circle cx="534.90" cy="313.50" r="2.3"/>
<circle cx="486.40" cy="321.50" r="2.3"/>
<circle cx="499.10" cy="321.50" r="2.3"/>
<circle cx="501.20" cy="321.50" r="2.3"/>
<circle cx="528.60" cy="321.50" r="2.3"/>
<circle cx="495.10" cy="328.60" r="2.3"/>
<circle cx="495.90" cy="330.20" r="2.3"/>
<circle cx="496.40" cy="334.20" r="2.3"/>
<circle cx="513.40" cy="334.20" r="2.3"/>
<circle cx="523.80" cy="334.20" r="2.3"/>
<circle cx="536.50" cy="333.60" r="2.3"/>
<circle cx="500.70" cy="339.30" r="2.3"/>
<circle cx="492.80" cy="342.20" r="2.3"/>
<circle cx="493.90" cy="344.10" r="2.3"/>
<circle cx="499.90" cy="342.50" r="2.3"/>
<circle cx="504.70" cy="343.00" r="2.3"/>
<circle cx="532.50" cy="341.80" r="2.3"/>
<circle cx="484.80" cy="353.30" r="2.3"/>
<circle cx="497.10" cy="353.30" r="2.3"/>
<circle cx="501.50" cy="357.30" r="2.3"/>
<circle cx="515.50" cy="353.60" r="2.3"/>
<circle cx="525.10" cy="353.60" r="2.3"/>
<circle cx="486.40" cy="357.30" r="2.3"/>
<circle cx="492.00" cy="357.30" r="2.3"/>
<circle cx="491.20" cy="360.10" r="2.3"/>
<circle cx="487.20" cy="360.10" r="2.3"/>
<circle cx="488.80" cy="366.80" r="2.3"/>
<circle cx="486.40" cy="370.00" r="2.3"/>
<circle cx="492.80" cy="369.20" r="2.3"/>
<circle cx="492.80" cy="373.70" r="2.3"/>
<circle cx="495.10" cy="373.70" r="2.3"/>
<circle cx="485.60" cy="377.20" r="2.3"/>
<circle cx="488.80" cy="377.20" r="2.3"/>
<circle cx="494.80" cy="377.20" r="2.3"/>
<circle cx="513.00" cy="372.10" r="2.3"/>
<circle cx="530.20" cy="372.40" r="2.3"/>
<circle cx="529.40" cy="374.30" r="2.3"/>
<circle cx="534.60" cy="372.10" r="2.3"/>
</g>
<g fill="#1a6fbb" stroke="#fff" stroke-width="0.37">
<circle cx="158.50" cy="401.70" r="2.3"/>
<circle cx="158.50" cy="403.70" r="2.3"/>
<circle cx="139.90" cy="405.90" r="2.3"/>
<circle cx="133.60" cy="405.90" r="2.3"/>
<circle cx="133.60" cy="408.20" r="2.3"/>
<circle cx="136.30" cy="410.00" r="2.3"/>
<circle cx="133.60" cy="411.60" r="2.3"/>
<circle cx="125.70" cy="409.10" r="2.3"/>
<circle cx="127.00" cy="413.80" r="2.3"/>
<circle cx="127.00" cy="417.40" r="2.3"/>
<circle cx="112.20" cy="417.00" r="2.3"/>
<circle cx="98.70" cy="424.10" r="2.3"/>
<circle cx="98.70" cy="426.20" r="2.3"/>
<circle cx="98.70" cy="428.40" r="2.3"/>
<circle cx="82.80" cy="426.20" r="2.3"/>
<circle cx="97.40" cy="465.70" r="2.3"/>
<circle cx="101.90" cy="486.60" r="2.3"/>
<circle cx="163.50" cy="474.50" r="2.3"/>
<circle cx="163.50" cy="477.70" r="2.3"/>
<circle cx="84.10" cy="477.90" r="2.3"/>
<circle cx="80.70" cy="479.00" r="2.3"/>
<circle cx="75.10" cy="490.90" r="2.3"/>
<circle cx="76.70" cy="494.30" r="2.3"/>
<circle cx="77.80" cy="435.40" r="2.3"/>
<circle cx="83.40" cy="437.30" r="2.3"/>
<circle cx="89.30" cy="438.20" r="2.3"/>
<circle cx="84.10" cy="439.50" r="2.3"/>
<circle cx="81.60" cy="440.40" r="2.3"/>
<circle cx="79.10" cy="443.20" r="2.3"/>
<circle cx="87.50" cy="443.80" r="2.3"/>
<circle cx="90.60" cy="444.10" r="2.3"/>
<circle cx="74.10" cy="445.10" r="2.3"/>
<circle cx="72.30" cy="446.60" r="2.3"/>
<circle cx="76.30" cy="447.50" r="2.3"/>
<circle cx="79.70" cy="446.60" r="2.3"/>
<circle cx="84.40" cy="446.30" r="2.3"/>
<circle cx="86.90" cy="448.50" r="2.3"/>
<circle cx="82.50" cy="448.50" r="2.3"/>
<circle cx="74.70" cy="451.30" r="2.3"/>
<circle cx="72.60" cy="452.20" r="2.3"/>
<circle cx="82.50" cy="451.60" r="2.3"/>
<circle cx="76.30" cy="453.10" r="2.3"/>
<circle cx="80.30" cy="454.40" r="2.3"/>
<circle cx="69.50" cy="454.10" r="2.3"/>
<circle cx="70.10" cy="457.50" r="2.3"/>
<circle cx="74.70" cy="458.10" r="2.3"/>
<circle cx="69.50" cy="460.00" r="2.3"/>
<circle cx="75.10" cy="460.30" r="2.3"/>
<circle cx="83.40" cy="462.10" r="2.3"/>
<circle cx="68.20" cy="464.30" r="2.3"/>
<circle cx="66.40" cy="465.30" r="2.3"/>
<circle cx="67.10" cy="465.70" r="2.3"/>
<circle cx="69.90" cy="466.10" r="2.3"/>
<circle cx="64.90" cy="471.60" r="2.3"/>
<circle cx="69.40" cy="470.70" r="2.3"/>
<circle cx="64.40" cy="475.70" r="2.3"/>
<circle cx="68.10" cy="475.30" r="2.3"/>
<circle cx="71.70" cy="476.60" r="2.3"/>
<circle cx="64.90" cy="478.90" r="2.3"/>
<circle cx="71.30" cy="480.80" r="2.3"/>
<circle cx="67.10" cy="483.00" r="2.3"/>
<circle cx="64.40" cy="485.80" r="2.3"/>
<circle cx="67.60" cy="488.10" r="2.3"/>
<circle cx="64.40" cy="489.40" r="2.3"/>
<circle cx="66.70" cy="491.30" r="2.3"/>
<circle cx="69.90" cy="494.90" r="2.3"/>
<circle cx="63.50" cy="494.90" r="2.3"/>
<circle cx="63.50" cy="499.10" r="2.3"/>
<circle cx="67.60" cy="499.50" r="2.3"/>
<circle cx="63.90" cy="506.40" r="2.3"/>
<circle cx="80.90" cy="478.90" r="2.3"/>
<circle cx="84.10" cy="478.00" r="2.3"/>
<circle cx="74.90" cy="491.30" r="2.3"/>
<circle cx="76.80" cy="494.50" r="2.3"/>
<circle cx="64.74" cy="502.22" r="2.3"/>
<circle cx="64.45" cy="492.33" r="2.3"/>
<circle cx="74.92" cy="488.58" r="2.3"/>
<circle cx="64.07" cy="482.54" r="2.3"/>
<circle cx="67.62" cy="488.58" r="2.3"/>
<circle cx="64.07" cy="496.18" r="2.3"/>
</g>
<g fill="#1a6fbb" stroke="#fff" stroke-width="0.37">
<circle cx="288.02" cy="410.55" r="2.3"/>
<circle cx="281.78" cy="418.05" r="2.3"/>
<circle cx="281.78" cy="414.30" r="2.3"/>
<circle cx="280.91" cy="408.26" r="2.3"/>
<circle cx="272.56" cy="402.33" r="2.3"/>
<circle cx="267.76" cy="412.01" r="2.3"/>
<circle cx="263.92" cy="406.60" r="2.3"/>
<circle cx="257.87" cy="428.78" r="2.3"/>
<circle cx="257.87" cy="424.62" r="2.3"/>
<circle cx="253.55" cy="409.62" r="2.3"/>
<circle cx="248.37" cy="417.53" r="2.3"/>
<circle cx="244.43" cy="438.68" r="2.3"/>
<circle cx="236.95" cy="426.91" r="2.3"/>
<circle cx="240.59" cy="445.24" r="2.3"/>
<circle cx="239.06" cy="440.97" r="2.3"/>
<circle cx="236.47" cy="454.62" r="2.3"/>
<circle cx="234.74" cy="443.99" r="2.3"/>
<circle cx="235.22" cy="439.41" r="2.3"/>
<circle cx="234.74" cy="435.87" r="2.3"/>
<circle cx="231.09" cy="445.24" r="2.3"/>
<circle cx="226.10" cy="447.54" r="2.3"/>
<circle cx="226.77" cy="438.16" r="2.3"/>
<circle cx="227.63" cy="459.72" r="2.3"/>
<circle cx="227.63" cy="457.43" r="2.3"/>
<circle cx="211.79" cy="490.77" r="2.3"/>
<circle cx="211.51" cy="488.47" r="2.3"/>
<circle cx="209.97" cy="484.20" r="2.3"/>
<circle cx="208.63" cy="479.31" r="2.3"/>
<circle cx="213.52" cy="477.43" r="2.3"/>
<circle cx="212.08" cy="475.45" r="2.3"/>
<circle cx="212.85" cy="471.70" r="2.3"/>
<circle cx="209.97" cy="471.70" r="2.3"/>
<circle cx="205.75" cy="475.14" r="2.3"/>
<circle cx="201.91" cy="491.91" r="2.3"/>
<circle cx="201.91" cy="488.79" r="2.3"/>
<circle cx="200.18" cy="485.77" r="2.3"/>
<circle cx="201.91" cy="481.18" r="2.3"/>
<circle cx="200.56" cy="475.45" r="2.3"/>
<circle cx="197.68" cy="491.91" r="2.3"/>
<circle cx="198.07" cy="486.91" r="2.3"/>
<circle cx="194.90" cy="506.70" r="2.3"/>
<circle cx="194.23" cy="498.37" r="2.3"/>
<circle cx="193.84" cy="492.64" r="2.3"/>
<circle cx="193.46" cy="488.06" r="2.3"/>
<circle cx="195.57" cy="481.60" r="2.3"/>
<circle cx="195.57" cy="478.89" r="2.3"/>
<circle cx="195.57" cy="476.29" r="2.3"/>
<circle cx="195.57" cy="472.02" r="2.3"/>
<circle cx="191.73" cy="471.29" r="2.3"/>
<circle cx="188.28" cy="505.97" r="2.3"/>
<circle cx="188.28" cy="499.52" r="2.3"/>
<circle cx="188.28" cy="495.66" r="2.3"/>
<circle cx="188.28" cy="491.08" r="2.3"/>
<circle cx="188.28" cy="486.91" r="2.3"/>
<circle cx="188.56" cy="481.60" r="2.3"/>
<circle cx="188.28" cy="478.58" r="2.3"/>
<circle cx="188.28" cy="474.31" r="2.3"/>
<circle cx="218.03" cy="458.26" r="2.3"/>
<circle cx="216.21" cy="458.26" r="2.3"/>
<circle cx="216.88" cy="455.04" r="2.3"/>
<circle cx="213.62" cy="458.26" r="2.3"/>
<circle cx="213.23" cy="453.06" r="2.3"/>
<circle cx="216.59" cy="448.26" r="2.3"/>
<circle cx="215.06" cy="445.45" r="2.3"/>
<circle cx="212.85" cy="447.12" r="2.3"/>
<circle cx="212.85" cy="471.08" r="2.3"/>
<circle cx="210.26" cy="470.24" r="2.3"/>
<circle cx="209.20" cy="466.29" r="2.3"/>
<circle cx="209.59" cy="460.24" r="2.3"/>
<circle cx="208.82" cy="457.85" r="2.3"/>
<circle cx="208.05" cy="454.72" r="2.3"/>
<circle cx="205.17" cy="474.62" r="2.3"/>
<circle cx="202.58" cy="465.87" r="2.3"/>
<circle cx="202.96" cy="446.70" r="2.3"/>
<circle cx="204.02" cy="444.31" r="2.3"/>
<circle cx="200.76" cy="475.04" r="2.3"/>
<circle cx="195.57" cy="471.91" r="2.3"/>
<circle cx="194.13" cy="462.64" r="2.3"/>
<circle cx="193.36" cy="459.10" r="2.3"/>
<circle cx="194.80" cy="455.45" r="2.3"/>
<circle cx="195.19" cy="451.91" r="2.3"/>
<circle cx="192.60" cy="451.91" r="2.3"/>
<circle cx="195.57" cy="448.26" r="2.3"/>
<circle cx="194.42" cy="445.45" r="2.3"/>
<circle cx="191.83" cy="465.04" r="2.3"/>
<circle cx="191.16" cy="471.08" r="2.3"/>
<circle cx="188.56" cy="474.31" r="2.3"/>
<circle cx="190.00" cy="465.87" r="2.3"/>
</g>
<g fill="#1a6fbb" stroke="#fff" stroke-width="0.37">
<circle cx="409.92" cy="506.29" r="2.3"/>
<circle cx="412.42" cy="488.27" r="2.3"/>
<circle cx="405.79" cy="490.87" r="2.3"/>
<circle cx="379.59" cy="501.60" r="2.3"/>
<circle cx="378.05" cy="498.06" r="2.3"/>
<circle cx="378.05" cy="491.91" r="2.3"/>
<circle cx="379.59" cy="486.08" r="2.3"/>
<circle cx="382.56" cy="478.99" r="2.3"/>
<circle cx="381.60" cy="475.35" r="2.3"/>
<circle cx="379.59" cy="466.49" r="2.3"/>
<circle cx="367.30" cy="504.10" r="2.3"/>
<circle cx="367.11" cy="500.77" r="2.3"/>
<circle cx="366.91" cy="496.91" r="2.3"/>
<circle cx="369.70" cy="494.93" r="2.3"/>
<circle cx="371.71" cy="491.91" r="2.3"/>
<circle cx="369.12" cy="490.87" r="2.3"/>
<circle cx="369.12" cy="489.20" r="2.3"/>
<circle cx="367.11" cy="491.39" r="2.3"/>
<circle cx="371.71" cy="481.70" r="2.3"/>
<circle cx="371.71" cy="477.64" r="2.3"/>
<circle cx="369.31" cy="477.64" r="2.3"/>
<circle cx="368.93" cy="474.31" r="2.3"/>
<circle cx="372.67" cy="473.16" r="2.3"/>
<circle cx="373.25" cy="469.31" r="2.3"/>
<circle cx="366.63" cy="479.83" r="2.3"/>
<circle cx="365.86" cy="476.49" r="2.3"/>
<circle cx="371.71" cy="459.93" r="2.3"/>
<circle cx="373.44" cy="458.26" r="2.3"/>
<circle cx="360.96" cy="476.70" r="2.3"/>
<circle cx="356.93" cy="495.97" r="2.3"/>
<circle cx="353.47" cy="491.50" r="2.3"/>
<circle cx="352.99" cy="479.93" r="2.3"/>
<circle cx="352.99" cy="475.87" r="2.3"/>
<circle cx="353.76" cy="466.60" r="2.3"/>
<circle cx="356.93" cy="458.37" r="2.3"/>
<circle cx="352.99" cy="457.85" r="2.3"/>
<circle cx="349.44" cy="505.45" r="2.3"/>
<circle cx="349.44" cy="500.25" r="2.3"/>
<circle cx="349.44" cy="494.41" r="2.3"/>
<circle cx="349.44" cy="490.97" r="2.3"/>
<circle cx="349.44" cy="485.77" r="2.3"/>
<circle cx="345.51" cy="489.20" r="2.3"/>
<circle cx="342.24" cy="506.08" r="2.3"/>
<circle cx="342.24" cy="500.56" r="2.3"/>
<circle cx="342.24" cy="494.41" r="2.3"/>
<circle cx="342.24" cy="490.97" r="2.3"/>
<circle cx="342.24" cy="485.97" r="2.3"/>
<circle cx="342.24" cy="483.37" r="2.3"/>
<circle cx="341.76" cy="470.66" r="2.3"/>
<circle cx="342.82" cy="462.43" r="2.3"/>
<circle cx="333.70" cy="506.08" r="2.3"/>
<circle cx="333.70" cy="500.25" r="2.3"/>
<circle cx="333.70" cy="493.27" r="2.3"/>
<circle cx="334.76" cy="489.20" r="2.3"/>
<circle cx="334.76" cy="478.99" r="2.3"/>
<circle cx="335.04" cy="471.18" r="2.3"/>
<circle cx="335.04" cy="457.64" r="2.3"/>
<circle cx="332.64" cy="483.37" r="2.3"/>
<circle cx="331.20" cy="475.24" r="2.3"/>
<circle cx="329.96" cy="497.33" r="2.3"/>
<circle cx="331.01" cy="485.14" r="2.3"/>
<circle cx="329.38" cy="480.45" r="2.3"/>
<circle cx="328.32" cy="500.87" r="2.3"/>
<circle cx="327.84" cy="492.75" r="2.3"/>
<circle cx="327.56" cy="489.83" r="2.3"/>
<circle cx="327.56" cy="486.29" r="2.3"/>
<circle cx="327.56" cy="482.43" r="2.3"/>
<circle cx="328.32" cy="470.66" r="2.3"/>
<circle cx="328.32" cy="465.35" r="2.3"/>
<circle cx="328.32" cy="458.06" r="2.3"/>
<circle cx="331.59" cy="457.85" r="2.3"/>
<circle cx="322.95" cy="502.02" r="2.3"/>
<circle cx="321.89" cy="499.10" r="2.3"/>
<circle cx="321.60" cy="495.04" r="2.3"/>
<circle cx="321.60" cy="490.97" r="2.3"/>
<circle cx="322.28" cy="483.99" r="2.3"/>
<circle cx="321.60" cy="477.54" r="2.3"/>
<circle cx="322.28" cy="471.18" r="2.3"/>
<circle cx="319.20" cy="502.02" r="2.3"/>
<circle cx="318.15" cy="499.10" r="2.3"/>
<circle cx="318.15" cy="494.41" r="2.3"/>
<circle cx="318.72" cy="487.12" r="2.3"/>
<circle cx="318.15" cy="481.70" r="2.3"/>
<circle cx="318.15" cy="477.02" r="2.3"/>
<circle cx="318.72" cy="471.81" r="2.3"/>
<circle cx="319.78" cy="464.83" r="2.3"/>
<circle cx="317.09" cy="460.76" r="2.3"/>
<circle cx="315.46" cy="497.33" r="2.3"/>
<circle cx="315.46" cy="482.85" r="2.3"/>
<circle cx="316.04" cy="478.79" r="2.3"/>
<circle cx="315.46" cy="475.24" r="2.3"/>
<circle cx="315.46" cy="465.97" r="2.3"/>
<circle cx="313.35" cy="496.18" r="2.3"/>
<circle cx="379.59" cy="452.95" r="2.3"/>
<circle cx="379.87" cy="446.39" r="2.3"/>
<circle cx="376.80" cy="444.72" r="2.3"/>
<circle cx="373.15" cy="455.45" r="2.3"/>
<circle cx="371.62" cy="445.87" r="2.3"/>
<circle cx="373.44" cy="438.06" r="2.3"/>
<circle cx="371.62" cy="428.89" r="2.3"/>
<circle cx="373.44" cy="417.64" r="2.3"/>
<circle cx="371.62" cy="417.64" r="2.3"/>
<circle cx="373.44" cy="412.01" r="2.3"/>
<circle cx="373.44" cy="404.10" r="2.3"/>
<circle cx="365.76" cy="454.62" r="2.3"/>
<circle cx="365.76" cy="441.39" r="2.3"/>
<circle cx="365.76" cy="439.20" r="2.3"/>
<circle cx="365.76" cy="410.66" r="2.3"/>
<circle cx="358.95" cy="445.56" r="2.3"/>
<circle cx="357.41" cy="444.72" r="2.3"/>
<circle cx="353.57" cy="444.20" r="2.3"/>
<circle cx="353.57" cy="426.49" r="2.3"/>
<circle cx="353.57" cy="415.66" r="2.3"/>
<circle cx="354.15" cy="402.43" r="2.3"/>
<circle cx="348.67" cy="439.72" r="2.3"/>
<circle cx="345.89" cy="447.95" r="2.3"/>
<circle cx="344.07" cy="446.81" r="2.3"/>
<circle cx="345.60" cy="440.56" r="2.3"/>
<circle cx="345.12" cy="435.56" r="2.3"/>
<circle cx="346.27" cy="406.60" r="2.3"/>
<circle cx="335.23" cy="456.29" r="2.3"/>
<circle cx="335.23" cy="443.47" r="2.3"/>
<circle cx="331.40" cy="438.89" r="2.3"/>
<circle cx="334.95" cy="424.31" r="2.3"/>
<circle cx="334.95" cy="414.30" r="2.3"/>
<circle cx="331.40" cy="454.62" r="2.3"/>
<circle cx="331.40" cy="448.79" r="2.3"/>
<circle cx="328.71" cy="449.62" r="2.3"/>
<circle cx="328.71" cy="453.79" r="2.3"/>
<circle cx="322.28" cy="452.12" r="2.3"/>
<circle cx="319.20" cy="454.62" r="2.3"/>
<circle cx="319.97" cy="447.95" r="2.3"/>
<circle cx="315.65" cy="447.95" r="2.3"/>
<circle cx="315.65" cy="445.56" r="2.3"/>
<circle cx="312.29" cy="455.45" r="2.3"/>
<circle cx="312.29" cy="452.12" r="2.3"/>
<circle cx="312.29" cy="445.87" r="2.3"/>
<circle cx="317.19" cy="426.91" r="2.3"/>
<circle cx="316.90" cy="408.99" r="2.3"/>
<circle cx="315.08" cy="409.83" r="2.3"/>
<circle cx="317.19" cy="404.41" r="2.3"/>
</g>
<g stroke="#000" stroke-width="0.7" fill="none" stroke-linecap="butt">
<path d="M58.50 9.10V124.00H168.80"/>
<path stroke-width="0.95" d="M63.45 124.00v2.67"/>
<path stroke-width="0.95" d="M125.70 124.00v2.67"/>
<path stroke-width="0.95" d="M58.50 118.84h-2.67"/>
<path stroke-width="0.95" d="M58.50 92.90h-2.67"/>
<path stroke-width="0.95" d="M58.50 66.96h-2.67"/>
<path stroke-width="0.95" d="M58.50 41.03h-2.67"/>
<path stroke-width="0.95" d="M58.50 15.09h-2.67"/>
<path d="M182.90 9.10V124.00H293.20"/>
<path stroke-width="0.95" d="M187.69 124.00v2.67"/>
<path stroke-width="0.95" d="M258.67 124.00v2.67"/>
<path stroke-width="0.95" d="M182.90 118.84h-2.67"/>
<path stroke-width="0.95" d="M182.90 92.90h-2.67"/>
<path stroke-width="0.95" d="M182.90 66.96h-2.67"/>
<path stroke-width="0.95" d="M182.90 41.03h-2.67"/>
<path stroke-width="0.95" d="M182.90 15.09h-2.67"/>
<path d="M307.30 9.10V124.00H417.60"/>
<path stroke-width="0.95" d="M312.24 124.00v2.67"/>
<path stroke-width="0.95" d="M373.18 124.00v2.67"/>
<path stroke-width="0.95" d="M307.30 118.84h-2.67"/>
<path stroke-width="0.95" d="M307.30 92.90h-2.67"/>
<path stroke-width="0.95" d="M307.30 66.96h-2.67"/>
<path stroke-width="0.95" d="M307.30 41.03h-2.67"/>
<path stroke-width="0.95" d="M307.30 15.09h-2.67"/>
<path d="M431.70 9.10V124.00H542.00"/>
<path stroke-width="0.95" d="M458.48 124.00v2.67"/>
<path stroke-width="0.95" d="M503.87 124.00v2.67"/>
<path stroke-width="0.95" d="M431.70 118.84h-2.67"/>
<path stroke-width="0.95" d="M431.70 92.90h-2.67"/>
<path stroke-width="0.95" d="M431.70 66.96h-2.67"/>
<path stroke-width="0.95" d="M431.70 41.03h-2.67"/>
<path stroke-width="0.95" d="M431.70 15.09h-2.67"/>
<path d="M58.50 138.30V253.20H168.80"/>
<path stroke-width="0.95" d="M63.45 253.20v2.67"/>
<path stroke-width="0.95" d="M125.70 253.20v2.67"/>
<path stroke-width="0.95" d="M58.50 248.21h-2.67"/>
<path stroke-width="0.95" d="M58.50 211.24h-2.67"/>
<path stroke-width="0.95" d="M58.50 174.27h-2.67"/>
<path d="M182.90 138.30V253.20H293.20"/>
<path stroke-width="0.95" d="M187.69 253.20v2.67"/>
<path stroke-width="0.95" d="M258.67 253.20v2.67"/>
<path stroke-width="0.95" d="M182.90 248.21h-2.67"/>
<path stroke-width="0.95" d="M182.90 211.24h-2.67"/>
<path stroke-width="0.95" d="M182.90 174.27h-2.67"/>
<path d="M307.30 138.30V253.20H417.60"/>
<path stroke-width="0.95" d="M312.24 253.20v2.67"/>
<path stroke-width="0.95" d="M373.18 253.20v2.67"/>
<path stroke-width="0.95" d="M307.30 248.21h-2.67"/>
<path stroke-width="0.95" d="M307.30 211.24h-2.67"/>
<path stroke-width="0.95" d="M307.30 174.27h-2.67"/>
<path d="M431.70 138.30V253.20H542.00"/>
<path stroke-width="0.95" d="M458.48 253.20v2.67"/>
<path stroke-width="0.95" d="M503.87 253.20v2.67"/>
<path stroke-width="0.95" d="M431.70 248.21h-2.67"/>
<path stroke-width="0.95" d="M431.70 211.24h-2.67"/>
<path stroke-width="0.95" d="M431.70 174.27h-2.67"/>
<path d="M58.50 267.50V382.40H168.80"/>
<path stroke-width="0.95" d="M63.45 382.40v2.67"/>
<path stroke-width="0.95" d="M125.70 382.40v2.67"/>
<path stroke-width="0.95" d="M58.50 377.26h-2.67"/>
<path stroke-width="0.95" d="M58.50 345.52h-2.67"/>
<path stroke-width="0.95" d="M58.50 313.78h-2.67"/>
<path stroke-width="0.95" d="M58.50 282.04h-2.67"/>
<path d="M182.90 267.50V382.40H293.20"/>
<path stroke-width="0.95" d="M187.69 382.40v2.67"/>
<path stroke-width="0.95" d="M258.67 382.40v2.67"/>
<path stroke-width="0.95" d="M182.90 377.26h-2.67"/>
<path stroke-width="0.95" d="M182.90 345.52h-2.67"/>
<path stroke-width="0.95" d="M182.90 313.78h-2.67"/>
<path stroke-width="0.95" d="M182.90 282.04h-2.67"/>
<path d="M307.30 267.50V382.40H417.60"/>
<path stroke-width="0.95" d="M312.24 382.40v2.67"/>
<path stroke-width="0.95" d="M373.18 382.40v2.67"/>
<path stroke-width="0.95" d="M307.30 377.26h-2.67"/>
<path stroke-width="0.95" d="M307.30 345.52h-2.67"/>
<path stroke-width="0.95" d="M307.30 313.78h-2.67"/>
<path stroke-width="0.95" d="M307.30 282.04h-2.67"/>
<path d="M431.70 267.50V382.40H542.00"/>
<path stroke-width="0.95" d="M458.48 382.40v2.67"/>
<path stroke-width="0.95" d="M503.87 382.40v2.67"/>
<path stroke-width="0.95" d="M431.70 377.26h-2.67"/>
<path stroke-width="0.95" d="M431.70 345.52h-2.67"/>
<path stroke-width="0.95" d="M431.70 313.78h-2.67"/>
<path stroke-width="0.95" d="M431.70 282.04h-2.67"/>
<path d="M58.50 396.70V511.60H168.80"/>
<path stroke-width="0.95" d="M63.45 511.60v2.67"/>
<path stroke-width="0.95" d="M125.70 511.60v2.67"/>
<path stroke-width="0.95" d="M58.50 507.34h-2.67"/>
<path stroke-width="0.95" d="M58.50 483.70h-2.67"/>
<path stroke-width="0.95" d="M58.50 460.06h-2.67"/>
<path stroke-width="0.95" d="M58.50 436.42h-2.67"/>
<path stroke-width="0.95" d="M58.50 412.78h-2.67"/>
<path d="M182.90 396.70V511.60H293.20"/>
<path stroke-width="0.95" d="M187.69 511.60v2.67"/>
<path stroke-width="0.95" d="M258.67 511.60v2.67"/>
<path stroke-width="0.95" d="M182.90 507.34h-2.67"/>
<path stroke-width="0.95" d="M182.90 483.70h-2.67"/>
<path stroke-width="0.95" d="M182.90 460.06h-2.67"/>
<path stroke-width="0.95" d="M182.90 436.42h-2.67"/>
<path stroke-width="0.95" d="M182.90 412.78h-2.67"/>
<path d="M307.30 396.70V511.60H417.60"/>
<path stroke-width="0.95" d="M312.24 511.60v2.67"/>
<path stroke-width="0.95" d="M373.18 511.60v2.67"/>
<path stroke-width="0.95" d="M307.30 507.34h-2.67"/>
<path stroke-width="0.95" d="M307.30 483.70h-2.67"/>
<path stroke-width="0.95" d="M307.30 460.06h-2.67"/>
<path stroke-width="0.95" d="M307.30 436.42h-2.67"/>
<path stroke-width="0.95" d="M307.30 412.78h-2.67"/>
<path d="M431.70 396.70V511.60H542.00"/>
<path stroke-width="0.95" d="M458.48 511.60v2.67"/>
<path stroke-width="0.95" d="M503.87 511.60v2.67"/>
<path stroke-width="0.95" d="M431.70 507.34h-2.67"/>
<path stroke-width="0.95" d="M431.70 483.70h-2.67"/>
<path stroke-width="0.95" d="M431.70 460.06h-2.67"/>
<path stroke-width="0.95" d="M431.70 436.42h-2.67"/>
<path stroke-width="0.95" d="M431.70 412.78h-2.67"/>
</g>
<g font-family="DejaVu Sans, sans-serif" font-size="10.9" fill="#000" stroke="#000" stroke-width="0.25">
<text x="63.45" y="525.22" text-anchor="middle">0</text>
<text x="125.70" y="525.22" text-anchor="middle">500</text>
<text x="187.69" y="525.22" text-anchor="middle">0</text>
<text x="258.67" y="525.22" text-anchor="middle">10000</text>
<text x="312.24" y="525.22" text-anchor="middle">0</text>
<text x="373.18" y="525.22" text-anchor="middle">100</text>
<text x="458.48" y="525.22" text-anchor="middle">2</text>
<text x="503.87" y="525.22" text-anchor="middle">4</text>
<text x="52.93" y="122.76" text-anchor="end">0</text>
<text x="52.93" y="96.82" text-anchor="end">200</text>
<text x="52.93" y="70.89" text-anchor="end">400</text>
<text x="52.93" y="44.95" text-anchor="end">600</text>
<text x="52.93" y="19.01" text-anchor="end">800</text>
<text x="52.93" y="252.13" text-anchor="end">0</text>
<text x="52.93" y="215.16" text-anchor="end">5000</text>
<text x="52.93" y="178.19" text-anchor="end">10000</text>
<text x="52.93" y="381.18" text-anchor="end">0</text>
<text x="52.93" y="349.44" text-anchor="end">50</text>
<text x="52.93" y="317.70" text-anchor="end">100</text>
<text x="52.93" y="285.96" text-anchor="end">150</text>
<text x="52.93" y="511.27" text-anchor="end">1</text>
<text x="52.93" y="487.63" text-anchor="end">2</text>
<text x="52.93" y="463.98" text-anchor="end">3</text>
<text x="52.93" y="440.34" text-anchor="end">4</text>
<text x="52.93" y="416.70" text-anchor="end">5</text>
</g>
<g font-family="DejaVu Sans, sans-serif" font-size="10.9" fill="#000" stroke="#000" stroke-width="0.25">
<text x="113.65" y="539.1" text-anchor="middle">We</text>
<text x="238.05" y="539.1" text-anchor="middle">Re</text>
<text x="360.35" y="539.1" text-anchor="middle"><tspan font-style="italic">θ</tspan><tspan font-style="italic" font-size="7.63" dy="1.8">eq</tspan></text>
<text x="486.85" y="539.1" text-anchor="middle" font-style="italic">β</text>
<text transform="translate(26.7,66.55) rotate(-90)" text-anchor="middle">We</text>
<text transform="translate(13.0,195.75) rotate(-90)" text-anchor="middle">Re</text>
<text transform="translate(24.6,327.6) rotate(-90)" text-anchor="middle"><tspan font-style="italic">θ</tspan><tspan font-style="italic" font-size="7.63" dy="2.2">eq</tspan></text>
<text transform="translate(40.0,454.15) rotate(-90)" text-anchor="middle"><tspan font-style="italic">β</tspan></text>
</g>
</svg>
</body></html>
